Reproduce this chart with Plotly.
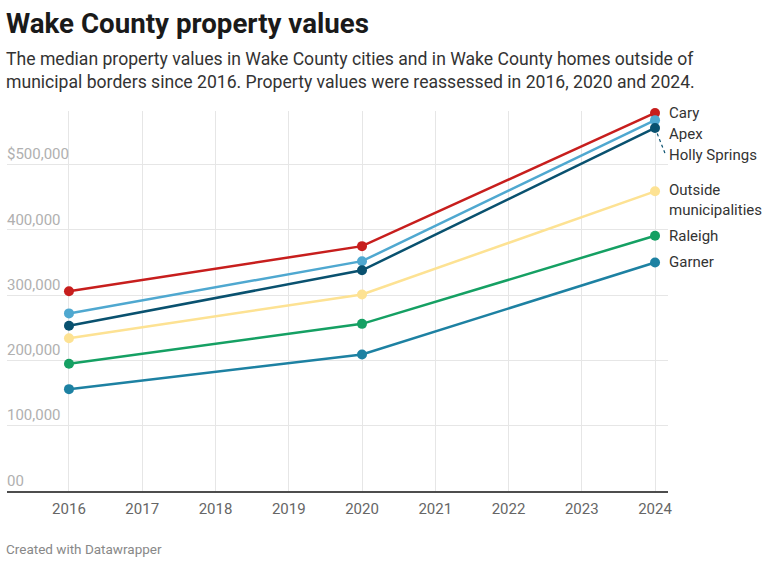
import plotly.graph_objects as go

years = [2016, 2020, 2024]
series_names = ["Cary", "Apex", "Holly Springs", "Outside<br>municipalities", "Raleigh", "Garner"]
cary = [306000, 375000, 579000]
apex = [272000, 352000, 568000]
holly = [253000, 338000, 556000]
outside = [234000, 301000, 459000]
raleigh = [195000, 256000, 391000]
garner = [156000, 209000, 350000]
colors = ["#c71e1d", "#4fa8d0", "#09516f", "#fde293", "#15a063", "#1d81a2"]
label_shift = [0, -14, -27, -9, 0, 0]

x_ticks = list(range(2016, 2025))
y_ticks = [0, 100000, 200000, 300000, 400000, 500000]
y_ticktext = ["00", "100,000", "200,000", "300,000", "400,000", "$500,000"]

all_series = [cary, apex, holly, outside, raleigh, garner]

fig = go.Figure()
for name, vals, col in zip(series_names, all_series, colors):
    fig.add_trace(go.Scatter(
        x=years, y=vals, mode="lines+markers", name=name,
        line=dict(color=col, width=2.5),
        marker=dict(color=col, size=10),
        cliponaxis=False, showlegend=False, hoverinfo="skip"))

for name, vals, col, sh in zip(series_names, all_series, colors, label_shift):
    fig.add_annotation(x=years[-1], y=vals[-1], xref="x", yref="y",
                       text=name, showarrow=False, xanchor="left", yanchor="middle",
                       align="left", xshift=12, yshift=sh,
                       font=dict(family="Roboto", size=15, color="#333333"))

# leader line for Holly Springs
fig.add_shape(type="line", xref="x", yref="y",
              x0=years[-1], y0=holly[-1], x1=years[-1] + 0.14, y1=holly[-1] - 40000,
              line=dict(color=colors[2], width=1.2, dash="dot"))

fig.update_layout(
    width=768, height=564,
    margin=dict(l=7, r=100, t=111, b=73),
    paper_bgcolor="white", plot_bgcolor="white",
    font=dict(family="Roboto", color="#333333"),
    xaxis=dict(range=[2015.154, 2024.177], tickvals=x_ticks, ticktext=[str(v) for v in x_ticks],
               showgrid=True, gridcolor="#e6e6e6", gridwidth=1,
               showline=True, linecolor="#4d4d4d", linewidth=2, ticks="",
               ticklabelstandoff=3,
               tickfont=dict(family="Roboto", size=15, color="#666666"), zeroline=False,
               fixedrange=True),
    yaxis=dict(range=[0, 582000], tickvals=y_ticks, ticktext=y_ticktext,
               ticklabelposition="inside top", showgrid=True, gridcolor="#e6e6e6",
               gridwidth=1, zeroline=False, ticks="", ticklabelstandoff=-3,
               tickfont=dict(family="Roboto", size=15, color="#b0b0b0"), fixedrange=True),
    annotations=list(fig.layout.annotations) + [
        dict(xref="paper", yref="paper", x=0, y=1, xanchor="left", yanchor="top",
             xshift=-3, yshift=111 - 5, showarrow=False,
             text="<b>Wake County property values</b>",
             font=dict(family="Roboto", size=27.7, color="#1a1a1a"), align="left"),
        dict(xref="paper", yref="paper", x=0, y=1, xanchor="left", yanchor="top",
             xshift=-3, yshift=111 - 47, showarrow=False,
             text="The median property values in Wake County cities and in Wake County homes outside of<br>municipal borders since 2016. Property values were reassessed in 2016, 2020 and 2024.",
             font=dict(family="Roboto", size=17.6, color="#333333"), align="left"),
        dict(xref="paper", yref="paper", x=0, y=0, xanchor="left", yanchor="middle",
             xshift=-3, yshift=-(549 - 491), showarrow=False,
             text="Created with Datawrapper",
             font=dict(family="Roboto", size=13.5, color="#888888"), align="left"),
    ],
)

fig.write_html("out.html")
